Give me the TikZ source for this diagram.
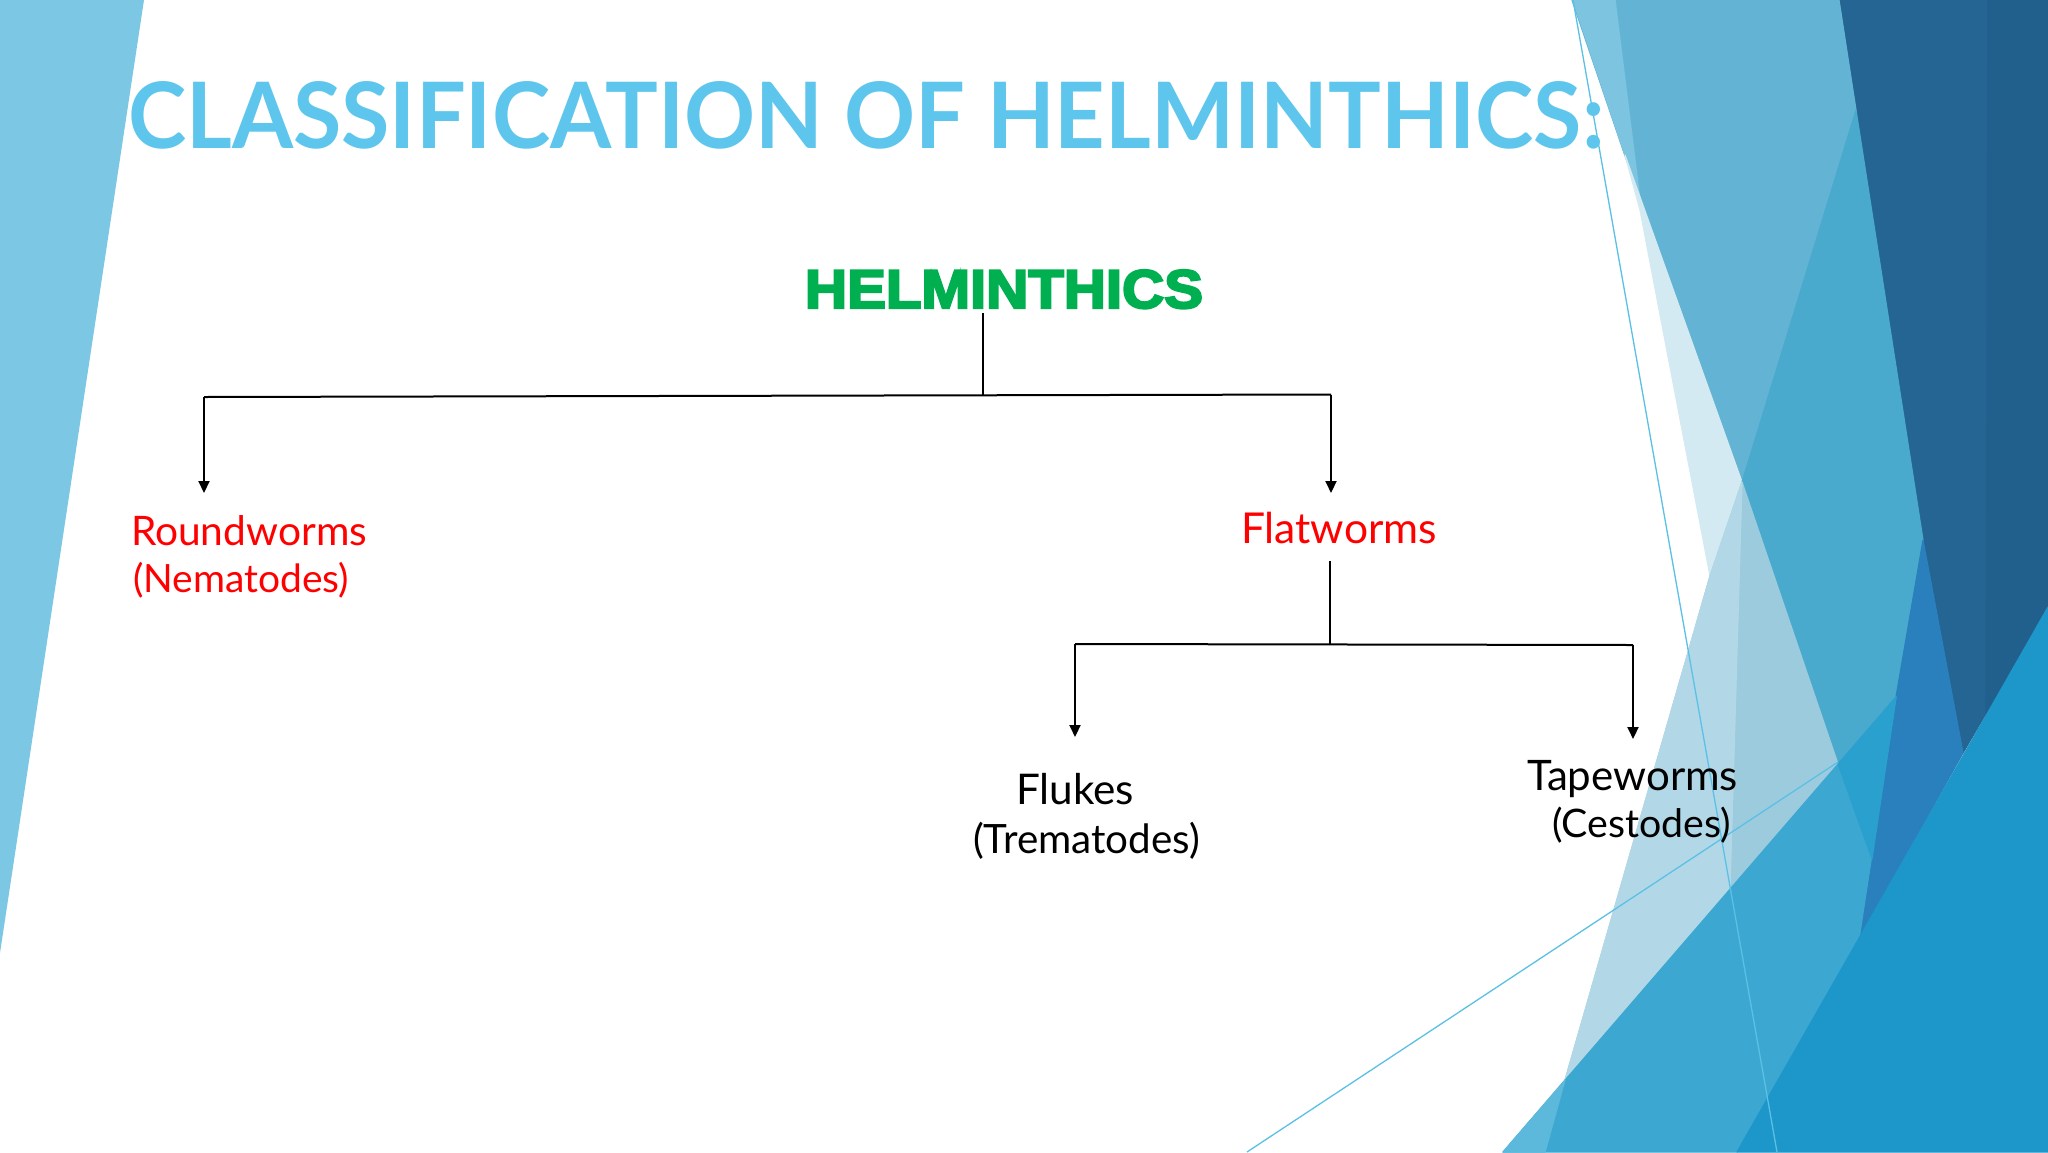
\documentclass[tikz,border=0pt]{standalone}
\usepackage{fontspec}
\usetikzlibrary{arrows.meta}
\newfontfamily\titlefont{Lato}
\newfontfamily\labelfont{Lato}
\newfontfamily\helmfont[FakeBold=4]{Liberation Sans}
\definecolor{titleblue}{RGB}{94,198,236}
\definecolor{helmgreen}{RGB}{0,176,80}
\definecolor{lblred}{RGB}{255,0,0}
\definecolor{bandL}{RGB}{124,200,228}
\definecolor{cM}{RGB}{99,180,212}
\definecolor{cRone}{RGB}{125,196,224}
\definecolor{cWtwo}{RGB}{212,234,243}
\definecolor{cK}{RGB}{74,170,205}
\definecolor{cD}{RGB}{36,101,148}
\definecolor{cDtwo}{RGB}{33,95,141}
\definecolor{cBand}{RGB}{42,128,188}
\definecolor{cPB}{RGB}{156,203,222}
\definecolor{cPBL}{RGB}{178,216,231}
\definecolor{cS}{RGB}{60,168,210}
\definecolor{cSK}{RGB}{42,160,207}
\definecolor{cSL}{RGB}{92,185,220}
\definecolor{cB}{RGB}{29,150,201}
\definecolor{thinblue}{RGB}{91,192,230}
\newcommand{\fitw}[2]{\resizebox{#1}{!}{#2}}
\tikzset{
  txt/.style={inner sep=0pt, outer sep=0pt, anchor=base west},
  conn/.style={draw=black, line width=2pt},
  arr/.style={conn, -{Triangle[length=12pt,width=11pt]}},
  deco/.style={draw=thinblue, line width=1.3pt},
  facet/.style={fill=#1, draw=#1, line width=1.2pt, line join=round}
}
\begin{document}
\begin{tikzpicture}[x=1pt,y=-1pt]
\useasboundingbox (0,0) rectangle (2048,1152);
\fill[white] (0,0) rectangle (2048,1152);
% left band
\fill[bandL] (0,0) -- (144,0) -- (0,953) -- cycle;
% right facets: base under all to hide seams
\fill[cK] (1839,0) -- (1923,540) -- (1963,753) -- (1737,1152) -- (1565,1080) -- (1742,482) -- (1853,100) -- cycle;
\filldraw[facet=cD] (1839,0) -- (2048,0) -- (2048,607) -- (1963,753) -- (1923,540) -- cycle;
\filldraw[facet=cDtwo] (1988,0) -- (2048,0) -- (2048,607) -- (1986,716) -- cycle;
\filldraw[facet=cM] (1572,0) -- (1839,0) -- (1856,110) -- (1742,482) -- (1623,150) -- cycle;
\filldraw[facet=cRone] (1573,0) -- (1615,0) -- (1640,200) -- cycle;
\filldraw[facet=cWtwo] (1625,155) -- (1742,482) -- (1710,576) -- (1640,210) -- cycle;
\filldraw[facet=cK] (1856,110) -- (1923,540) -- (1896,697) -- (1838,764) -- (1742,482) -- cycle;
\filldraw[facet=cBand] (1923,540) -- (1963,753) -- (1859,939) -- (1896,697) -- cycle;
\filldraw[facet=cPB] (1710,576) -- (1742,482) -- (1838,764) -- (1565,1080) -- cycle;
\filldraw[facet=cPBL] (1742,482) -- (1730,889) -- (1565,1080) -- (1710,576) -- cycle;
\filldraw[facet=cS] (1503,1152) -- (1896,697) -- (1859,939) -- (1737,1152) -- cycle;
\filldraw[facet=cSK] (1838,764) -- (1896,697) -- (1872,859) -- cycle;
\filldraw[facet=cSL] (1503,1152) -- (1565,1080) -- (1545,1152) -- cycle;
\filldraw[facet=cB] (2048,607) -- (2048,1152) -- (1737,1152) -- cycle;
\draw[deco] (1573,0) -- (1777,1152);
\draw[deco] (1247,1152) -- (1838,762);
% title
\node[txt, text=titleblue] (title) at (128,148)
  {\resizebox{1476pt}{67pt}{\titlefont\bfseries\fontsize{94}{100}\selectfont CLASSIFICATION OF HELMINTHICS:}};
% tree
\node[txt, text=helmgreen] (helm) at (805,308)
  {\resizebox{398pt}{38pt}{\helmfont\bfseries\fontsize{54}{60}\selectfont HELMINTHICS}};
\node[txt, text=lblred] (rw) at (131,545) {\fitw{236pt}{\labelfont\fontsize{39}{45}\selectfont Roundworms}};
\node[txt, text=lblred] (rwsub) at (133,592) {\fitw{216pt}{\labelfont\fontsize{39}{45}\selectfont (Nematodes)}};
\node[txt, text=lblred] (fw) at (1241,543) {\fitw{196pt}{\labelfont\fontsize{39}{45}\selectfont Flatworms}};
\node[txt] (fk) at (1016,804) {\fitw{118pt}{\labelfont\fontsize{39}{45}\selectfont Flukes}};
\node[txt] (fksub) at (973,853) {\fitw{227pt}{\labelfont\fontsize{39}{45}\selectfont (Trematodes)}};
\node[txt] (tw) at (1527,790) {\fitw{211pt}{\labelfont\fontsize{39}{45}\selectfont Tapeworms}};
\node[txt] (twsub) at (1552,837) {\fitw{179pt}{\labelfont\fontsize{39}{45}\selectfont (Cestodes)}};
% connector points
\coordinate (s1) at (983,313);
\coordinate (j1) at (983,395.5);
\coordinate (b1l) at (204,397);
\coordinate (b1r) at (1331,394.5);
\coordinate (rwin) at (204,493);
\coordinate (fwin) at (1331,493);
\coordinate (s2) at (1330,561);
\coordinate (j2) at (1330,644);
\coordinate (b2l) at (1075,644);
\coordinate (b2r) at (1633,645);
\coordinate (fkin) at (1075,737);
\coordinate (twin) at (1633,739);
\draw[conn] (s1) -- (j1);
\draw[conn] (b1l) -- (b1r);
\draw[arr] (b1l) -- (rwin);
\draw[arr] (b1r) -- (fwin);
\draw[conn] (s2) -- (j2);
\draw[conn] (b2l) -- (b2r);
\draw[arr] (b2l) -- (fkin);
\draw[arr] (b2r) -- (twin);
\end{tikzpicture}
\end{document}
